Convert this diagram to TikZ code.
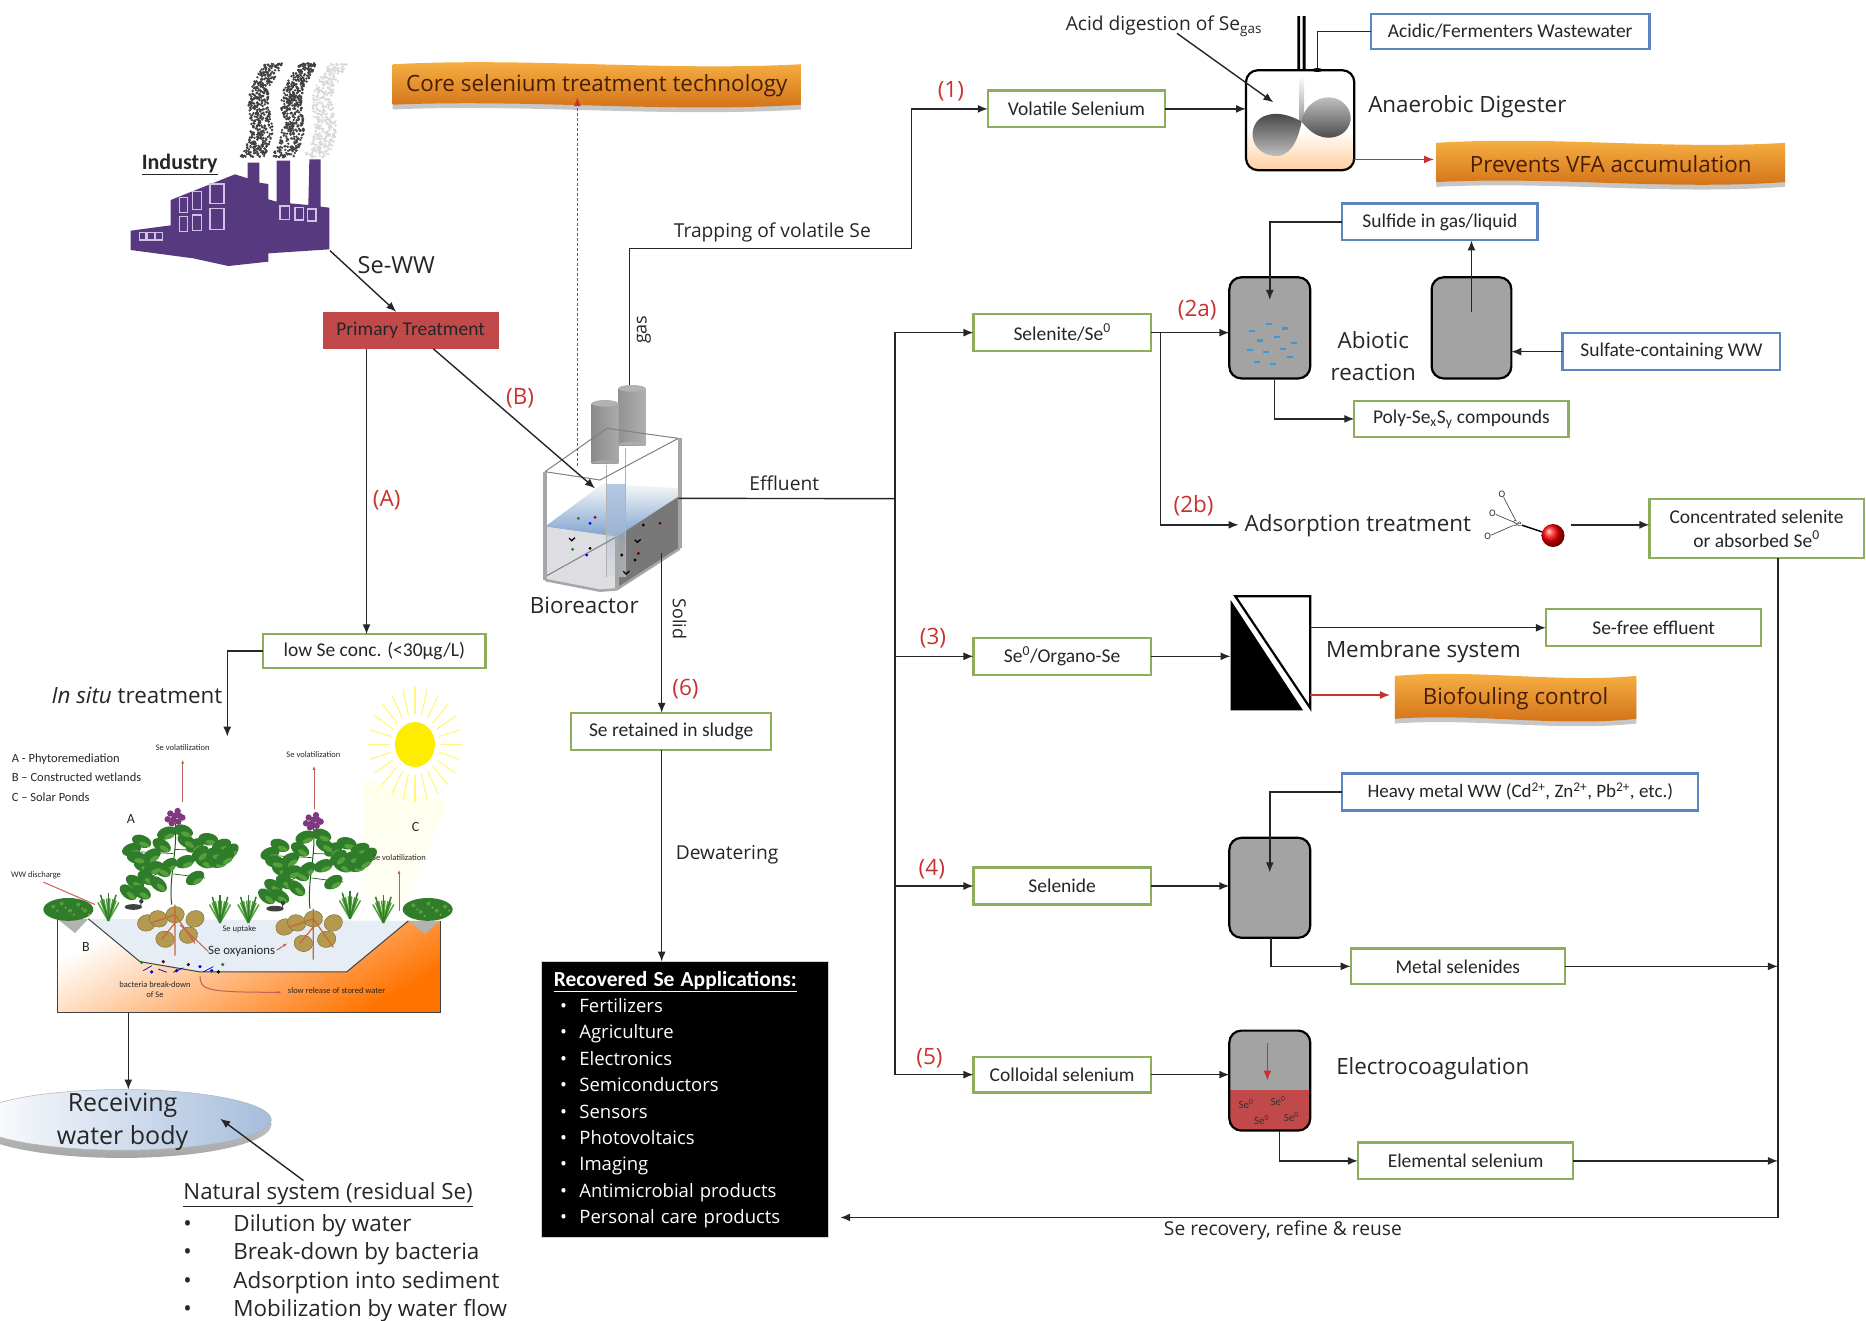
\documentclass[tikz,border=0pt]{standalone}
\usepackage{fontspec}
\setmainfont{Carlito}
\newfontfamily\osf{Open Sans}
\usetikzlibrary{arrows.meta,calc,shapes.geometric}
\definecolor{ink}{HTML}{262626}
\definecolor{gbord}{HTML}{8FAE5C}
\definecolor{bbord}{HTML}{5B86C0}
\definecolor{redl}{HTML}{C8322E}
\definecolor{prim}{HTML}{C2494A}
\definecolor{vgray}{HTML}{A3A3A3}
\definecolor{purp}{HTML}{57397F}
\definecolor{winl}{HTML}{D0C2E4}
\definecolor{oratop}{HTML}{F9B547}
\definecolor{oramid}{HTML}{F0901C}
\definecolor{orabot}{HTML}{D06C14}
\definecolor{bantx}{HTML}{4A1E05}
\definecolor{leafa}{HTML}{2F7D2A}
\definecolor{leafb}{HTML}{55A03A}
\definecolor{tater}{HTML}{B39A4E}
\definecolor{rootc}{HTML}{C8653A}
\definecolor{pinkr}{HTML}{C4605C}
\definecolor{water}{HTML}{E6EDF4}
\definecolor{lakeb}{HTML}{A5BDDC}
\definecolor{surfb}{HTML}{7FA3D0}
\tikzset{
  sz/.style 2 args={minimum width=#1*1.19pt,minimum height=#2*1.19pt},
  zm/.style 2 args={x=1pt,y=-1pt,shift={(#1,#2)},x=.33333pt,y=-.33333pt},
  zmb/.style 2 args={x=1pt,y=-1pt,shift={(#1,#2)},x=.33333pt,y=-.40816pt},
  box/.style={inner sep=0pt,outer sep=0pt,align=center,text=ink,font=\fontsize{19.5}{24}\selectfont},
  gbox/.style={box,draw=gbord,line width=2.2pt,fill=white},
  bbox/.style={box,draw=bbord,line width=2.2pt,fill=white},
  lab/.style={text=ink,inner sep=0pt,align=center,font=\osf\fontsize{22.4}{32}\selectfont},
  redlab/.style={text=redl,inner sep=0pt,font=\osf\fontsize{22.5}{26}\selectfont},
  small/.style={text=ink,inner sep=0pt,font=\osf\fontsize{19.2}{23}\selectfont},
  tiny/.style={text=ink,inner sep=0pt,align=center,font=\fontsize{8.5}{9.5}\selectfont},
  lgnd/.style={text=ink,inner sep=0pt,anchor=west,align=left,font=\fontsize{12.5}{14}\selectfont},
  cnx/.style={draw=ink,line width=1.4pt},
  cnxa/.style={cnx,-{Latex[length=10pt,width=8pt]}},
  reda/.style={draw=redl,line width=1.4pt,-{Latex[length=10pt,width=8pt]}},
  pinka/.style={draw=pinkr,line width=1pt,-{Latex[length=4pt,width=3pt]}},
  vessel/.style={inner sep=0pt,outer sep=0pt,rounded corners=12pt,draw=black,line width=2.2pt},
  bantext/.style={inner sep=0pt,text=bantx,font=\osf\fontsize{22.4}{26}\selectfont},
  plant/.pic={
    \draw[leafa!70!black,line width=1pt] (0,10) .. controls (10,80) and (-20,150) .. (-10,215);
    \draw[leafa!70!black,line width=.7pt] (-5,120) -- (-130,170) (-5,90) -- (-130,85) (0,80) -- (165,85) (-5,140) -- (90,150);
    \foreach \px/\py/\pr in {-130/80/20,-100/60/-20,-70/95/30,-40/70/-30,60/70/30,100/55/-10,140/70/20,165/85/40,90/110/-20,130/110/10,-120/160/-30,-85/150/-30,-50/165/-40,-20/120/40,-40/130/-30,30/110/20,60/150/30,-95/120/-20,35/60/-30,-25/40/20,25/35/-20,120/90/0,-115/100/-10,-65/125/20,-140/185/-40,-100/185/-30,75/90/40,150/100/30}
      {\fill[leafa,rotate around={\pr:(\px,\py)}] (\px,\py) ellipse (30 and 15);
       \fill[leafb,rotate around={\pr:(\px+8,\py+8)}] (\px+8,\py+8) ellipse (16 and 6);}
    \foreach \px/\py in {-14/-8,8/-14,22/2,-5/6,10/12,-22/6,0/-3,14/-2,-10/16}
      {\fill[violet!55!gray] (\px,\py) circle (3.2pt);}
    \foreach \px/\py/\pr in {-85/260/20,-50/250/-20,0/240/10,60/250/25,-30/300/-10,40/290/15}
      {\fill[tater,draw=tater!60!black,line width=.3pt,rotate around={\pr:(\px,\py)}] (\px,\py) ellipse (28 and 20);}
    \draw[rootc,line width=1.2pt] (0,215) -- (0,340) (0,240) -- (60,310) (0,240) -- (-70,260) (0,260) -- (-40,300);
  },
  grassclump/.pic={
    \foreach \ga in {-35,-25,-15,-5,5,15,25,35}
      {\draw[leafb,line width=1.5pt] (0,0) -- ++(-90+\ga:55);}
    \foreach \ga in {-20,0,20}
      {\draw[leafa,line width=1.5pt] (0,0) -- ++(-90+\ga:68);}
  },
  duck/.pic={
    \fill[black!75] (0,0) ellipse (26 and 7);
    \fill[black!75] (24,-14) circle (2.2pt);
    \draw[black!75,line width=1pt] (22,-3) -- (24,-14);
  },
}
\newcommand\wavebanner[6]{%
  \pgfmathsetmacro\bca{#2+(#4-#2)/3}\pgfmathsetmacro\bcb{#2+2*(#4-#2)/3}%
  \fill[gray!45] (#2,#3+5) .. controls (\bca,#3-1) and (\bcb,#3+11) .. (#4,#3+5) -- (#4,#5+2) .. controls (\bcb,#5+9) and (\bca,#5-3) .. (#2,#5+2) -- cycle;
  \shade[top color=oratop,middle color=oramid,bottom color=orabot] (#2,#3+2) .. controls (\bca,#3-4) and (\bcb,#3+8) .. (#4,#3+2) -- (#4,#5-2) .. controls (\bcb,#5+5) and (\bca,#5-7) .. (#2,#5-2) -- cycle;
  \node[bantext] (#1) at ({(#2+#4)/2},{(#3+#5)/2+1}) {#6};
}
\begin{document}
\begin{tikzpicture}[x=1.19pt,y=-1.19pt]
\useasboundingbox (0,0) rectangle (1568,1109.24);
\clip (0,0) rectangle (1568,1109.24);

% ---------- factory
\begin{scope}[zm={100}{40}]
  \pgfmathsetseed{42}
  \foreach \xz/\dz/\sh/\nn in {455/55/black!75/480,545/70/black!75/480,645/60/gray!30/400}{
    \foreach \i in {1,...,\nn}{
      \pgfmathsetmacro\tz{rnd}
      \pgfmathsetmacro\xp{\xz+\tz*\dz+15*sin(\tz*400)+(rnd-.5)*(70-15*\tz)}
      \pgfmathsetmacro\yp{352-282*\tz}
      \fill[\sh] (\xp,\yp) circle[radius=1.3pt];
    }
  }
  \fill[purp] (92,572) -- (212,556) -- (212,480) -- (405,403) -- (443,415) -- (443,368) -- (478,368) -- (478,428) -- (505,432) -- (505,478) -- (530,485) -- (530,362) -- (570,362) -- (570,490) -- (625,495) -- (628,358) -- (662,358) -- (662,500) -- (688,503) -- (688,628) -- (505,640) -- (505,665) -- (385,678) -- (280,655) -- (92,630) -- cycle;
  \foreach \wa/\wb/\wc/\wd in {118/578/138/600,143/578/163/600,167/578/187/600,238/472/262/518,278/454/305/508,330/432/372/490,238/530/262/575,278/525/305/572,330/505/372/568,540/498/568/538,585/503/610/540,622/507/648/543}
    {\draw[winl,line width=1.1pt] (\wa,\wb) rectangle (\wc,\wd);}
  \coordinate (fac) at (690,632);
\end{scope}
\node[inner sep=0pt,text=ink,font=\bfseries\fontsize{22}{26}\selectfont] (ind) at (151,138) {\underline{Industry}};
\node[lab,font=\osf\fontsize{23.5}{27}\selectfont] (sww) at (333,223) {Se-WW};

\node[box,fill=prim,sz={148}{31}] (pri) at (345,277.5) {Primary Treatment};
\node[gbox,sz={187}{28}] (low) at (314.5,547) {low Se conc. (<30μg/L)};
\node[lab,anchor=east] (insitu) at (187,584) {\textit{In situ} treatment};
\coordinate (wetin) at (191,619);

\wavebanner{core}{330}{52}{673}{90}{Core selenium treatment technology}

% ---------- wetland
\begin{scope}[zmb={0}{680}]
  \shade[top color=yellow!8,middle color=yellow!35,bottom color=yellow!4] (1090,240) -- (1340,300) -- (1215,560) -- (1090,530) -- cycle;
  \foreach \sa in {0,15,...,345}{\draw[yellow!50,line width=1.2pt] (1245,158) ++(\sa:75) -- ++(\sa:65);}
  \fill[yellow!95!orange] (1245,158) ellipse (60 and 55);
  \node[lgnd] (lga) at (35,195) {A - Phytoremediation};
  \node[lgnd] (lgb) at (35,238) {B -- Constructed wetlands};
  \node[lgnd] (lgc) at (35,287) {C -- Solar Ponds};
  \shade[shading=axis,top color=white,middle color=orange!22,bottom color=orange!90!red,shading angle=30] (172,580) -- (265,585) -- (420,690) -- (600,715) -- (1040,715) -- (1225,590) -- (1320,590) -- (1320,815) -- (172,815) -- cycle;
  \fill[water] (265,585) -- (420,690) -- (600,715) -- (1040,715) -- (1225,590) -- cycle;
  \draw[gray!50!black,line width=1pt] (172,585) -- (172,815) -- (1320,815) -- (1320,590);
  \draw[gray!50!black,line width=1pt] (265,585) -- (420,690) -- (600,715) -- (1040,715) -- (1225,590);
  \fill[gray!60] (172,585) -- (225,620) -- (265,585) -- cycle;
  \fill[gray!60] (1225,590) -- (1275,622) -- (1320,590) -- cycle;
  \fill[leafa] (205,562) ellipse (75 and 28);
  \fill[leafa] (1283,562) ellipse (75 and 28);
  \foreach \bx/\by in {160/555,185/548,210/565,235/550,255/565,1240/552,1262/568,1285/548,1310/565,1335/555}
    {\fill[leafb] (\bx,\by) circle (2pt);\fill[tater] (\bx+12,\by+10) circle (1pt);}
  \pic at (325,590) {grassclump};
  \pic at (660,595) {grassclump};
  \pic at (745,595) {grassclump};
  \pic at (1050,585) {grassclump};
  \pic at (1150,595) {grassclump};
  \pic at (525,335) {plant};
  \pic at (940,345) {plant};
  \pic at (400,556) {duck};
  \pic at (825,560) {duck};
  \foreach \bx/\by/\bc in {425/692/leafa,455/715/blue,490/690/red!40!black,530/712/blue,565/697/red!40!black,600/702/blue,635/712/blue,655/715/black,668/697/leafa}
    {\fill[\bc] (\bx,\by) circle (1.8pt);}
  \draw[blue!60!black,line width=.7pt] (430,712) -- (455,700) (475,708) -- (500,716) (520,716) -- (550,705) (610,715) -- (640,702);
  \draw[pinka] (548,300) -- (548,195);
  \draw[pinka] (942,315) -- (942,210);
  \draw[pinka] (1197,565) -- (1197,465);
  \draw[pinka,-] (130,495) -- (285,550);
  \draw[pinka] (600,725) .. controls (600,760) and (620,765) .. (845,765);
  \draw[pinka,-] (625,665) -- (540,600);
  \draw[pinka] (830,662) -- (862,645);
  \node[tiny] (va) at (548,165) {Se volatilization};
  \node[tiny] (vb) at (940,183) {Se volatilization};
  \node[tiny] (vc) at (1197,435) {Se volatilization};
  \node[tiny] (ww) at (108,478) {WW discharge};
  \node[tiny] (up) at (718,610) {Se uptake};
  \node[tiny] (sl) at (1010,762) {slow release of stored water};
  \node[tiny] (bb) at (465,758) {bacteria break-down\\of Se};
  \node[text=ink,inner sep=0pt,font=\fontsize{12.8}{15}\selectfont] (ox) at (725,665) {Se oxyanions};
  \node[text=ink,inner sep=0pt,font=\fontsize{14}{16}\selectfont] (la) at (393,340) {A};
  \node[text=ink,inner sep=0pt,font=\fontsize{14}{16}\selectfont] (lb) at (258,653) {B};
  \node[text=ink,inner sep=0pt,font=\fontsize{14}{16}\selectfont] (lc) at (1247,360) {C};
  \coordinate (wetout) at (385,815);
\end{scope}

% ---------- receiving water
\shade[top color=gray!30,bottom color=gray!70] (102,945) ellipse (126 and 28);
\node[ellipse,inner sep=0pt,outer sep=0pt,sz={250}{51},draw=gray!60,line width=.5pt,left color=white,right color=lakeb] (rec) at (103,941) {};
\node[text=ink,inner sep=0pt,align=center,font=\osf\fontsize{25}{33}\selectfont] (rect) at (103,943) {Receiving\\water body};
\node[inner sep=0pt,anchor=west,text=ink,font=\osf\fontsize{22.3}{26}\selectfont] (nat) at (154,1004) {\underline{Natural system (residual Se)}};
\node[inner sep=0pt,anchor=north west,text=ink,align=left,font=\osf\fontsize{22.4}{28.6}\selectfont] (natl) at (154,1020) {\makebox[50pt][l]{\textbullet}Dilution by water\\\makebox[50pt][l]{\textbullet}Break-down by bacteria\\\makebox[50pt][l]{\textbullet}Adsorption into sediment\\\makebox[50pt][l]{\textbullet}Mobilization by water flow};
\coordinate (natarr) at (255,992);
\coordinate (recarr) at (185,940);

% ---------- bioreactor
\begin{scope}[zm={500}{360}]
  \fill[gray!12] (135,335) -- (320,205) -- (535,235) -- (540,565) -- (350,690) -- (135,660) -- cycle;
  \fill[white] (135,335) -- (320,205) -- (535,235) -- (535,400) -- (310,370) -- (135,500) -- cycle;
  \shade[top color=gray!6,bottom color=surfb] (135,500) -- (310,370) -- (535,385) -- (535,410) -- (350,530) -- cycle;
  \fill[blue!8!gray!25] (135,500) -- (350,530) -- (350,688) -- (300,692) -- (135,660) -- cycle;
  \fill[gray!75!black!85] (350,530) -- (535,410) -- (540,565) -- (350,688) -- cycle;
  \shade[left color=gray!90,right color=gray!65,opacity=.95] (355,85) rectangle (437,255);
  \fill[gray!65] (437,255) arc[start angle=0,end angle=-180,x radius=41,y radius=10];
  \fill[gray!60] (396,85) ellipse (41 and 10);
  \shade[left color=gray!95,right color=gray!70,opacity=.95] (275,130) rectangle (355,310);
  \fill[gray!70] (355,310) arc[start angle=0,end angle=-180,x radius=40,y radius=10];
  \fill[gray!60] (315,130) ellipse (40 and 10);
  \shade[top color=surfb,bottom color=gray!30,opacity=.55] (318,372) rectangle (375,650);
  \draw[gray!60,line width=.6pt] (318,315) -- (318,650) (375,265) -- (375,650);
  \draw[gray,line width=1pt] (135,335) -- (320,205) -- (535,235) (135,335) -- (300,360) -- (535,235) (135,650) -- (350,530);
  \draw[gray!70,line width=4pt] (135,335) -- (135,660) (540,235) -- (540,565) (350,530) -- (350,688);
  \draw[gray!70,line width=2.5pt] (135,660) -- (300,692) -- (350,688) -- (540,565);
  \foreach \bx/\by/\bc in {235/475/leafa,285/472/red!60!black,270/490/blue,218/568/leafa,270/565/black,260/585/blue,430/495/black,480/490/red!40!black,365/585/black,405/600/black,415/580/red!40!black}
    {\fill[\bc] (\bx,\by) circle (1.6pt);}
  \foreach \bx/\by in {215/538,412/543,378/638}{\draw[black,line width=1.3pt] (\bx-8,\by-4) -- (\bx,\by+4) -- (\bx+10,\by-5);}
  \coordinate (bioin) at (285,385);
  \coordinate (bioout) at (535,415);
  \coordinate (gasout) at (388,75);
  \coordinate (soout) at (485,580);
  \coordinate (redup) at (232,318);
\end{scope}
\node[lab] (biol) at (491,509) {Bioreactor};
\node[lab,rotate=90,font=\osf\fontsize{18}{20}\selectfont] (gasl) at (541,277) {gas};
\node[lab,rotate=-90,font=\osf\fontsize{18}{20}\selectfont] (sol) at (571,520) {Solid};
\node[small] (trap) at (649,195) {Trapping of volatile Se};
\node[small] (efl) at (659,406) {Effluent};
\node[small] (dew) at (611,718) {Dewatering};
\node[small] (srec) at (1078,1034) {Se recovery, refine \& reuse};

\node[gbox,sz={168}{31}] (ret) at (564,614.5) {Se retained in sludge};
\node[inner sep=0pt,outer sep=0pt,fill=black,draw=gray!35,line width=1.2pt,sz={241}{232},text width=262pt,align=left,text=white,font=\osf\fontsize{18.5}{26.4}\selectfont] (app) at (575.5,924) {{\normalfont\bfseries\fontsize{21.5}{26.4}\selectfont\underline{Recovered Se Applications:}}\\\makebox[25.5pt][l]{\ \textbullet}Fertilizers\\\makebox[25.5pt][l]{\ \textbullet}Agriculture\\\makebox[25.5pt][l]{\ \textbullet}Electronics\\\makebox[25.5pt][l]{\ \textbullet}Semiconductors\\\makebox[25.5pt][l]{\ \textbullet}Sensors\\\makebox[25.5pt][l]{\ \textbullet}Photovoltaics\\\makebox[25.5pt][l]{\ \textbullet}Imaging\\\makebox[25.5pt][l]{\ \textbullet}Antimicrobial products\\\makebox[25.5pt][l]{\ \textbullet}Personal care products};

% ---------- right boxes
\node[gbox,sz={149}{31}] (vol) at (904.5,91.5) {Volatile Selenium};
\node[bbox,sz={234}{29}] (aci) at (1269,26.5) {Acidic/Fermenters Wastewater};
\node[bbox,sz={164}{31}] (sul) at (1210,186.5) {Sulfide in gas/liquid};
\node[bbox,sz={183}{31}] (sfa) at (1404.5,295.5) {Sulfate-containing WW};
\node[gbox,sz={149}{31}] (sel) at (892.5,279.5) {Selenite/Se\textsuperscript{0}};
\node[gbox,sz={180}{30}] (pol) at (1228,352) {Poly-Se\textsubscript{x}S\textsubscript{y} compounds};
\node[gbox,sz={180}{50}] (con) at (1476,444) {Concentrated selenite\\or absorbed Se\textsuperscript{0}};
\node[gbox,sz={181}{31}] (fre) at (1389.5,527.5) {Se-free effluent};
\node[gbox,sz={149}{31}] (org) at (892.5,551.5) {Se\textsuperscript{0}/Organo-Se};
\node[bbox,sz={299}{31},font=\fontsize{19}{23}\selectfont] (hvy) at (1277.5,665.5) {Heavy metal WW (Cd\textsuperscript{2+}, Zn\textsuperscript{2+}, Pb\textsuperscript{2+}, etc.)};
\node[gbox,sz={149}{31}] (sde) at (892.5,744.5) {Selenide};
\node[gbox,sz={180}{30}] (mts) at (1225,812) {Metal selenides};
\node[gbox,sz={149}{30}] (col) at (892.5,903) {Colloidal selenium};
\node[gbox,sz={181}{31}] (ele) at (1231.5,975.5) {Elemental selenium};

% ---------- digester
\begin{scope}[zm={1040}{0}]
  \begin{scope}
    \clip[rounded corners=13pt] (618,212) rectangle (942,512);
    \fill[white] (618,212) rectangle (942,512);
    \shade[top color=white,bottom color=orange!38] (618,385) rectangle (942,512);
  \end{scope}
  \shade[top color=white,bottom color=gray!80] (778,225) rectangle (792,365);
  \shade[top color=black!72,bottom color=gray!50] (785,365) .. controls (750,345) and (720,340) .. (700,342) .. controls (655,345) and (635,375) .. (638,410) .. controls (642,450) and (680,470) .. (715,468) .. controls (760,460) and (775,410) .. (785,365) -- cycle;
  \shade[top color=gray!50,bottom color=black!70] (785,365) .. controls (790,320) and (830,292) .. (865,292) .. controls (905,292) and (935,325) .. (932,360) .. controls (925,400) and (890,415) .. (860,413) .. controls (825,410) and (800,385) .. (785,365) -- cycle;
  \fill[black] (772,48) rectangle (780,212) (788,48) rectangle (797,212);
  \fill[black] (832,210) ellipse (15 and 6);
\end{scope}
\node[vessel,sz={91}{84}] (dig) at (1092.5,101) {};
\node[lab] (dgl) at (1233,90) {Anaerobic Digester};
\node[small] (adg) at (978,22) {Acid digestion of Se\textsubscript{gas}};
\coordinate (adga) at (989,28);
\coordinate (adgb) at (1070,86);
\coordinate (dtop) at (1107,59);
\wavebanner{vfa}{1207}{118}{1500}{155}{Prevents VFA accumulation}

% ---------- abiotic vessels
\node[vessel,fill=vgray,sz={68}{85}] (va1) at (1067,275.5) {};
\node[vessel,fill=vgray,sz={67}{85}] (va2) at (1236.5,275.5) {};
\foreach \dx/\dy in {1052/278,1066/272,1080/276,1059/286,1073/283,1087/288,1050/294,1064/296,1078/293,1056/304,1070/306,1084/300}
  {\fill[cyan!70!blue!80] (\dx-2.5,\dy-1) rectangle (\dx+2.5,\dy+1);}
\node[lab] (abl) at (1154,299) {Abiotic\\reaction};

% ---------- adsorption
\node[lab] (ads) at (1141,442) {Adsorption treatment};
\node[inner sep=0pt,text=ink,font=\fontsize{9}{10}\selectfont] (sem) at (1275,440) {Se};
\node[inner sep=0pt,text=ink,font=\fontsize{10}{11}\selectfont] (oa) at (1262,415) {O};
\node[inner sep=0pt,text=ink,font=\fontsize{10}{11}\selectfont] (ob) at (1254,431) {O};
\node[inner sep=0pt,text=ink,font=\fontsize{10}{11}\selectfont] (oc) at (1250,451) {O};
\node[circle,inner sep=0pt,outer sep=0pt,minimum size=23pt,ball color=red] (ball) at (1305,450) {};
\draw[gray!60!black,line width=.7pt] (oa) -- (sem) (ob) -- (sem) (oc) -- (sem);
\draw[black,line width=1.4pt] (sem) -- (ball);
\coordinate (adsend) at (1320,441);

% ---------- membrane
\node[inner sep=0pt,outer sep=0pt,sz={67}{96}] (mem) at (1067.5,549) {};
\fill[black] ($(mem.north west)+(0,3)$) -- (mem.south west) -- ($(mem.south east)+(-6,0)$) -- cycle;
\draw[black,line width=2.2pt] ($(mem.north west)+(4,0)$) -- (mem.north east) -- ($(mem.south east)+(0,-2)$) -- cycle;
\node[lab] (mbl) at (1196,548) {Membrane system};
\wavebanner{bio}{1172}{566}{1375}{606}{Biofouling control}

% ---------- heavy metal vessel
\node[vessel,fill=vgray,sz={68}{84}] (vhm) at (1067,746) {};

% ---------- electrocoagulation
\begin{scope}
  \clip[rounded corners=12pt] (1033,866) rectangle (1101,950);
  \fill[vgray] (1033,866) rectangle (1101,916);
  \fill[prim] (1033,916) rectangle (1101,950);
\end{scope}
\node[vessel,sz={68}{84}] (vel) at (1067,908) {};
\draw[draw=redl,line width=1.4pt,-{Latex[length=10pt,width=8pt]}] (1065,876) -- (1065,908);
\foreach \dx/\dy/\dn in {1047/928/ea,1074/925/eb,1060/941/ec,1085/939/ed}
  {\node[inner sep=0pt,text=black!80,font=\fontsize{11}{12}\selectfont] (\dn) at (\dx,\dy) {Se\textsuperscript{0}};}
\node[lab] (ecl) at (1204,898) {Electrocoagulation};

% ---------- connectors
\coordinate (trunk) at (752,419);
\coordinate (gasb) at (766,209);
\coordinate (ret2) at (1494,1023);
\draw[cnxa] (fac) -- (pri.north -| 333,0);
\draw[cnxa] (pri.south -| 308,0) -- (low.north -| 308,0);
\draw[cnxa] (low.west) -| (wetin);
\draw[cnxa] (wetout) -- (rec.north -| wetout);
\draw[cnxa] (natarr) -- (recarr);
\draw[cnxa] (pri.south -| 364,0) -- (bioin);
\draw[draw=redl,line width=1.4pt,dash pattern=on 3pt off 2pt,-{Latex[length=9pt,width=7pt]}] (redup) -- (core.south -| redup);
\draw[cnxa] (gasout) |- (gasb) |- (vol.west);
\draw[cnxa] (vol.east) -- (dig.west |- vol.east);
\draw[cnxa] (adga) -- (adgb);
\draw[cnx] (aci.west) -| (dtop);
\draw[reda] ($(dig.south east)+(0,-9)$) -- ($(vfa.center -| 1205,0)+(0,-3.5)$);
\draw[cnx] (bioout) -- (trunk);
\draw[cnxa] (trunk) |- (sel.west);
\draw[cnxa] (trunk) |- (org.west);
\draw[cnxa] (trunk) |- (sde.west);
\draw[cnxa] (trunk) |- (col.west);
\draw[cnxa] (soout) -- (ret.north -| soout);
\draw[cnxa] (ret.south -| soout) -- (app.north -| soout);
\draw[cnxa] (sel.east) -- (va1.west |- sel.east);
\draw[cnxa] ($(sel.east)+(8,0)$) |- ($(ads.west)+(-5,-1)$);
\draw[cnxa] (sul.west) -| ($(va1.north)+(0,19)$);
\draw[cnxa] ($(va2.center)+(0,-13)$) -- (sul.south -| va2.center);
\draw[cnxa] (sfa.west) -- (va2.east |- sfa.west);
\draw[cnxa] ($(va1.south)+(4,0)$) |- (pol.west);
\draw[cnxa] (adsend) -- (con.west |- adsend);
\draw[cnxa] (org.east) -- (mem.west |- org.east);
\draw[cnxa] (mem.east |- fre.west) -- (fre.west);
\draw[reda] ($(mem.east)+(0,35)$) -- ($(bio.center -| 1168,0)+(0,-3)$);
\draw[cnxa] (sde.east) -- (vhm.west |- sde.east);
\draw[cnxa] (hvy.west) -| ($(vhm.north)+(0,29)$);
\draw[cnxa] ($(vhm.south)+(1,0)$) |- (mts.west);
\draw[cnxa] (mts.east) -- (mts.east -| ret2);
\draw[cnxa] (col.east) -- (vel.west |- col.east);
\draw[cnxa] ($(vel.south)+(8,0)$) |- (ele.west);
\draw[cnxa] (ele.east) -- (ele.east -| ret2);
\draw[cnxa] (con.south -| ret2) |- ($(app.east |- ret2)+(10,0)$);

% ---------- red labels
\node[redlab] (rA) at (325,420) {(A)};
\node[redlab] (rB) at (437,335) {(B)};
\node[redlab] (r1) at (799,77) {(1)};
\node[redlab] (r2a) at (1006,261) {(2a)};
\node[redlab] (r2b) at (1003,425) {(2b)};
\node[redlab] (r3) at (784,536) {(3)};
\node[redlab] (r4) at (783,730) {(4)};
\node[redlab] (r5) at (781,889) {(5)};
\node[redlab] (r6) at (576,579) {(6)};
\end{tikzpicture}
\end{document}
